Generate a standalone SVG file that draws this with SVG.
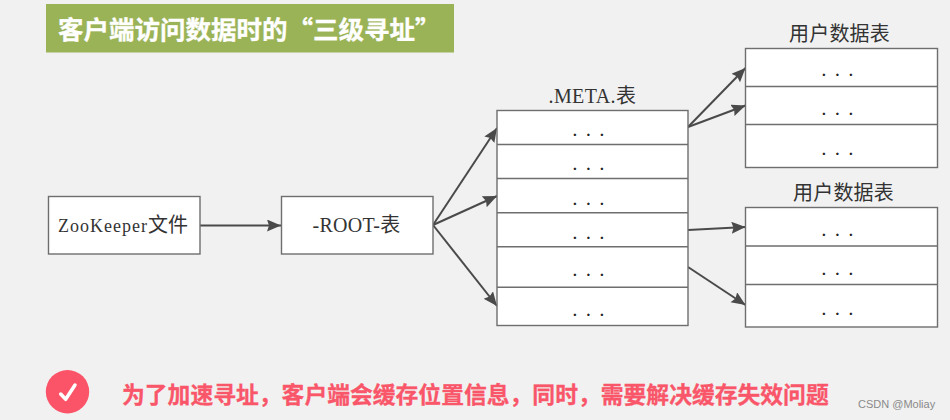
<svg xmlns="http://www.w3.org/2000/svg" width="950" height="420" viewBox="0 0 950 420">
<style>
.box{fill:#fff;stroke:#6e6e6e;stroke-width:1.4}
.div{stroke:#6e6e6e;stroke-width:1.6;fill:none}
.lab{font-family:"Liberation Serif","Noto Sans CJK SC",serif;font-size:20px;fill:#333}
.dots{font-family:"Liberation Serif",serif;font-size:15px;font-weight:bold;letter-spacing:9.75px;fill:#222}
.conn{stroke:#4a4a4a;stroke-width:2;fill:none;marker-end:url(#arr)}
</style>
<defs>
<marker id="arr" markerUnits="userSpaceOnUse" markerWidth="15" markerHeight="13" refX="14" refY="6" orient="auto">
<path d="M0 0L14 6L0 12L2 6Z" fill="#4a4a4a"/>
</marker>
</defs>
<rect width="950" height="420" fill="#f1f1f1"/>
<g id="title">
<rect x="46" y="4" width="408" height="48.500" fill="#9bb357"/>
<text x="58" y="39" font-family="'Noto Sans CJK SC',sans-serif" font-size="25.500" font-weight="700" fill="#fff" stroke="#fff" stroke-width="0.3">客户端访问数据时的“三级寻址”</text>
</g>
<g id="connectors">
<line class="conn" x1="200" y1="225.500" x2="281" y2="225.500"/>
<line class="conn" x1="433" y1="225" x2="497" y2="128"/>
<line class="conn" x1="433" y1="225" x2="497" y2="196"/>
<line class="conn" x1="433" y1="225" x2="497" y2="306"/>
<line class="conn" x1="688" y1="127" x2="745.500" y2="68"/>
<line class="conn" x1="688" y1="127" x2="745.500" y2="105.500"/>
<line class="conn" x1="688" y1="230" x2="745.500" y2="227"/>
<line class="conn" x1="688" y1="267" x2="745.500" y2="305"/>
</g>
<g id="zookeeper">
<rect class="box" x="48.500" y="196.500" width="151.500" height="57.500"/>
<text x="58" y="232" font-family="'Liberation Serif','Noto Sans CJK SC',serif" font-size="18" letter-spacing="1" fill="#333">ZooKeeper<tspan font-size="20" letter-spacing="0">文件</tspan></text>
</g>
<g id="root">
<rect class="box" x="281.500" y="196.500" width="151.500" height="57.500"/>
<text class="lab" x="312.500" y="232" letter-spacing="0.300">-ROOT-表</text>
</g>
<g id="meta">
<text class="lab" x="548.500" y="103" letter-spacing="0.400">.META.表</text>
<rect class="box" x="497" y="110.500" width="191" height="215"/>
<path class="div" d="M497 144.500H688M497 178.500H688M497 212.800H688M497 246.800H688M497 287.300H688"/>
<text class="dots" x="573" y="135.500">...</text>
<text class="dots" x="573" y="170">...</text>
<text class="dots" x="573" y="204.500">...</text>
<text class="dots" x="573" y="239">...</text>
<text class="dots" x="573" y="276">...</text>
<text class="dots" x="573" y="315.500">...</text>
</g>
<g id="user-table-1">
<text class="lab" x="789" y="40.500" letter-spacing="0.200">用户数据表</text>
<rect class="box" x="745.500" y="48.500" width="192" height="119"/>
<path class="div" d="M745.500 86.500H937.500M745.500 124.500H937.500"/>
<text class="dots" x="822" y="76">...</text>
<text class="dots" x="822" y="114.500">...</text>
<text class="dots" x="822" y="155">...</text>
</g>
<g id="user-table-2">
<text class="lab" x="793" y="200" letter-spacing="0.200">用户数据表</text>
<rect class="box" x="745.500" y="207.500" width="192" height="119.500"/>
<path class="div" d="M745.500 246H937.500M745.500 284.500H937.500"/>
<text class="dots" x="822" y="235.500">...</text>
<text class="dots" x="822" y="274.500">...</text>
<text class="dots" x="822" y="314.500">...</text>
</g>
<g id="note">
<circle cx="67.500" cy="391.700" r="21.700" fill="#fb5468"/>
<path d="M60.700 394L65.700 399.300L75 385" fill="none" stroke="#fff" stroke-width="3.500" stroke-linecap="round" stroke-linejoin="round"/>
<text x="122" y="403" font-family="'Noto Sans CJK SC',sans-serif" font-size="22.800" font-weight="700" fill="#f9566a" stroke="#f9566a" stroke-width="0.3">为了加速寻址，客户端会缓存位置信息，同时，需要解决缓存失效问题</text>
</g>
<text x="858" y="408" font-family="'Liberation Sans',sans-serif" font-size="11" fill="#8a8a8a">CSDN @Moliay</text>
</svg>
